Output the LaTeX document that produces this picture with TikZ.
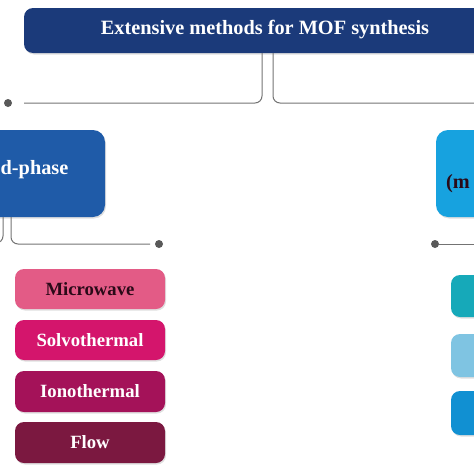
\documentclass[tikz,border=0pt]{standalone}
\usepackage{fontspec}
\setmainfont{Liberation Serif}
\usetikzlibrary{positioning, shadows, calc}

\definecolor{navyblue}{HTML}{1B3A7A}
\definecolor{midblue}{HTML}{1F5BA8}
\definecolor{skyblue}{HTML}{17A2DF}
\definecolor{rosepink}{HTML}{E35B86}
\definecolor{deeppink}{HTML}{D4156C}
\definecolor{plum}{HTML}{A41259}
\definecolor{wine}{HTML}{7B1840}
\definecolor{tealbox}{HTML}{16A9B9}
\definecolor{paleblue}{HTML}{7FC4E2}
\definecolor{oceanblue}{HTML}{1190D2}
\definecolor{darktext}{HTML}{2A0A18}

\begin{document}
\begin{tikzpicture}[
    x=1pt, y=-1pt,
    box/.style={rectangle, rounded corners=9pt, draw=none, inner sep=0pt,
                drop shadow={opacity=0.25, shadow xshift=1pt, shadow yshift=-1.5pt}},
    lbl/.style={font=\bfseries\fontsize{18.7}{22}\selectfont, text=white, inner sep=0pt},
    biglbl/.style={lbl, font=\bfseries\fontsize{20.3}{24}\selectfont},
    link/.style={draw=black!55, line width=1pt, rounded corners=7pt},
    tip/.style={circle, fill=black!65, inner sep=0pt, minimum size=8pt},
]
\useasboundingbox (0,0) rectangle (474,474);
\clip (0,0) rectangle (474,474);

% top level
\node[box, fill=navyblue, minimum width=496pt, minimum height=45pt] (top) at (272,30.5) {};
\node[biglbl] (title) at (265,30) {Extensive methods for MOF synthesis};
\coordinate (lend) at (24,103);
\coordinate (rend) at (520,103);
\node[tip] (ldot) at (8,103) {};
\draw[link] (top.south -| 262,0) |- (lend);
\draw[link] (top.south -| 273,0) |- (rend);

% second level
\node[box, fill=midblue, rounded corners=12pt, minimum width=195pt, minimum height=87pt] (liquid) at (7.5,173.5) {};
\node[biglbl, anchor=west] (liquidtxt) at (0.5,170) {d-phase};
\node[box, fill=skyblue, rounded corners=12pt, minimum width=164pt, minimum height=87pt] (other) at (518,173.5) {};
\node[biglbl, anchor=west, text=darktext] (othertxt) at (446,184) {(m};

\coordinate (aend) at (-20,243);
\coordinate (bend) at (150,244);
\node[tip] (bdot) at (159,244) {};
\draw[link] (liquid.south -| 3,0) |- (aend);
\draw[link] (liquid.south -| 11,0) |- (bend);

\node[tip] (cdot) at (435,244) {};
\coordinate (cend) at (520,244);
\draw[link] (cdot) -- (cend);

% third level
\node[box, fill=rosepink, minimum width=150pt, minimum height=40pt] (micro) at (90,289) {};
\node[lbl, text=darktext] (microtxt) at (micro) {Microwave};
\node[box, fill=deeppink, minimum width=150pt, minimum height=40pt] (solvo) at (90,340) {};
\node[lbl] (solvotxt) at (solvo) {Solvothermal};
\node[box, fill=plum, minimum width=150pt, minimum height=41pt] (iono) at (90,391.5) {};
\node[lbl] (ionotxt) at (iono) {Ionothermal};
\node[box, fill=wine, minimum width=150pt, minimum height=41pt] (flow) at (90,442.5) {};
\node[lbl] (flowtxt) at (flow) {Flow};

\node[box, fill=tealbox, minimum width=150pt, minimum height=42pt] (rone) at (526,296) {};
\node[box, fill=paleblue, minimum width=150pt, minimum height=43pt] (rtwo) at (526,355.5) {};
\node[box, fill=oceanblue, minimum width=150pt, minimum height=44pt] (rthree) at (526,413) {};
\end{tikzpicture}
\end{document}
